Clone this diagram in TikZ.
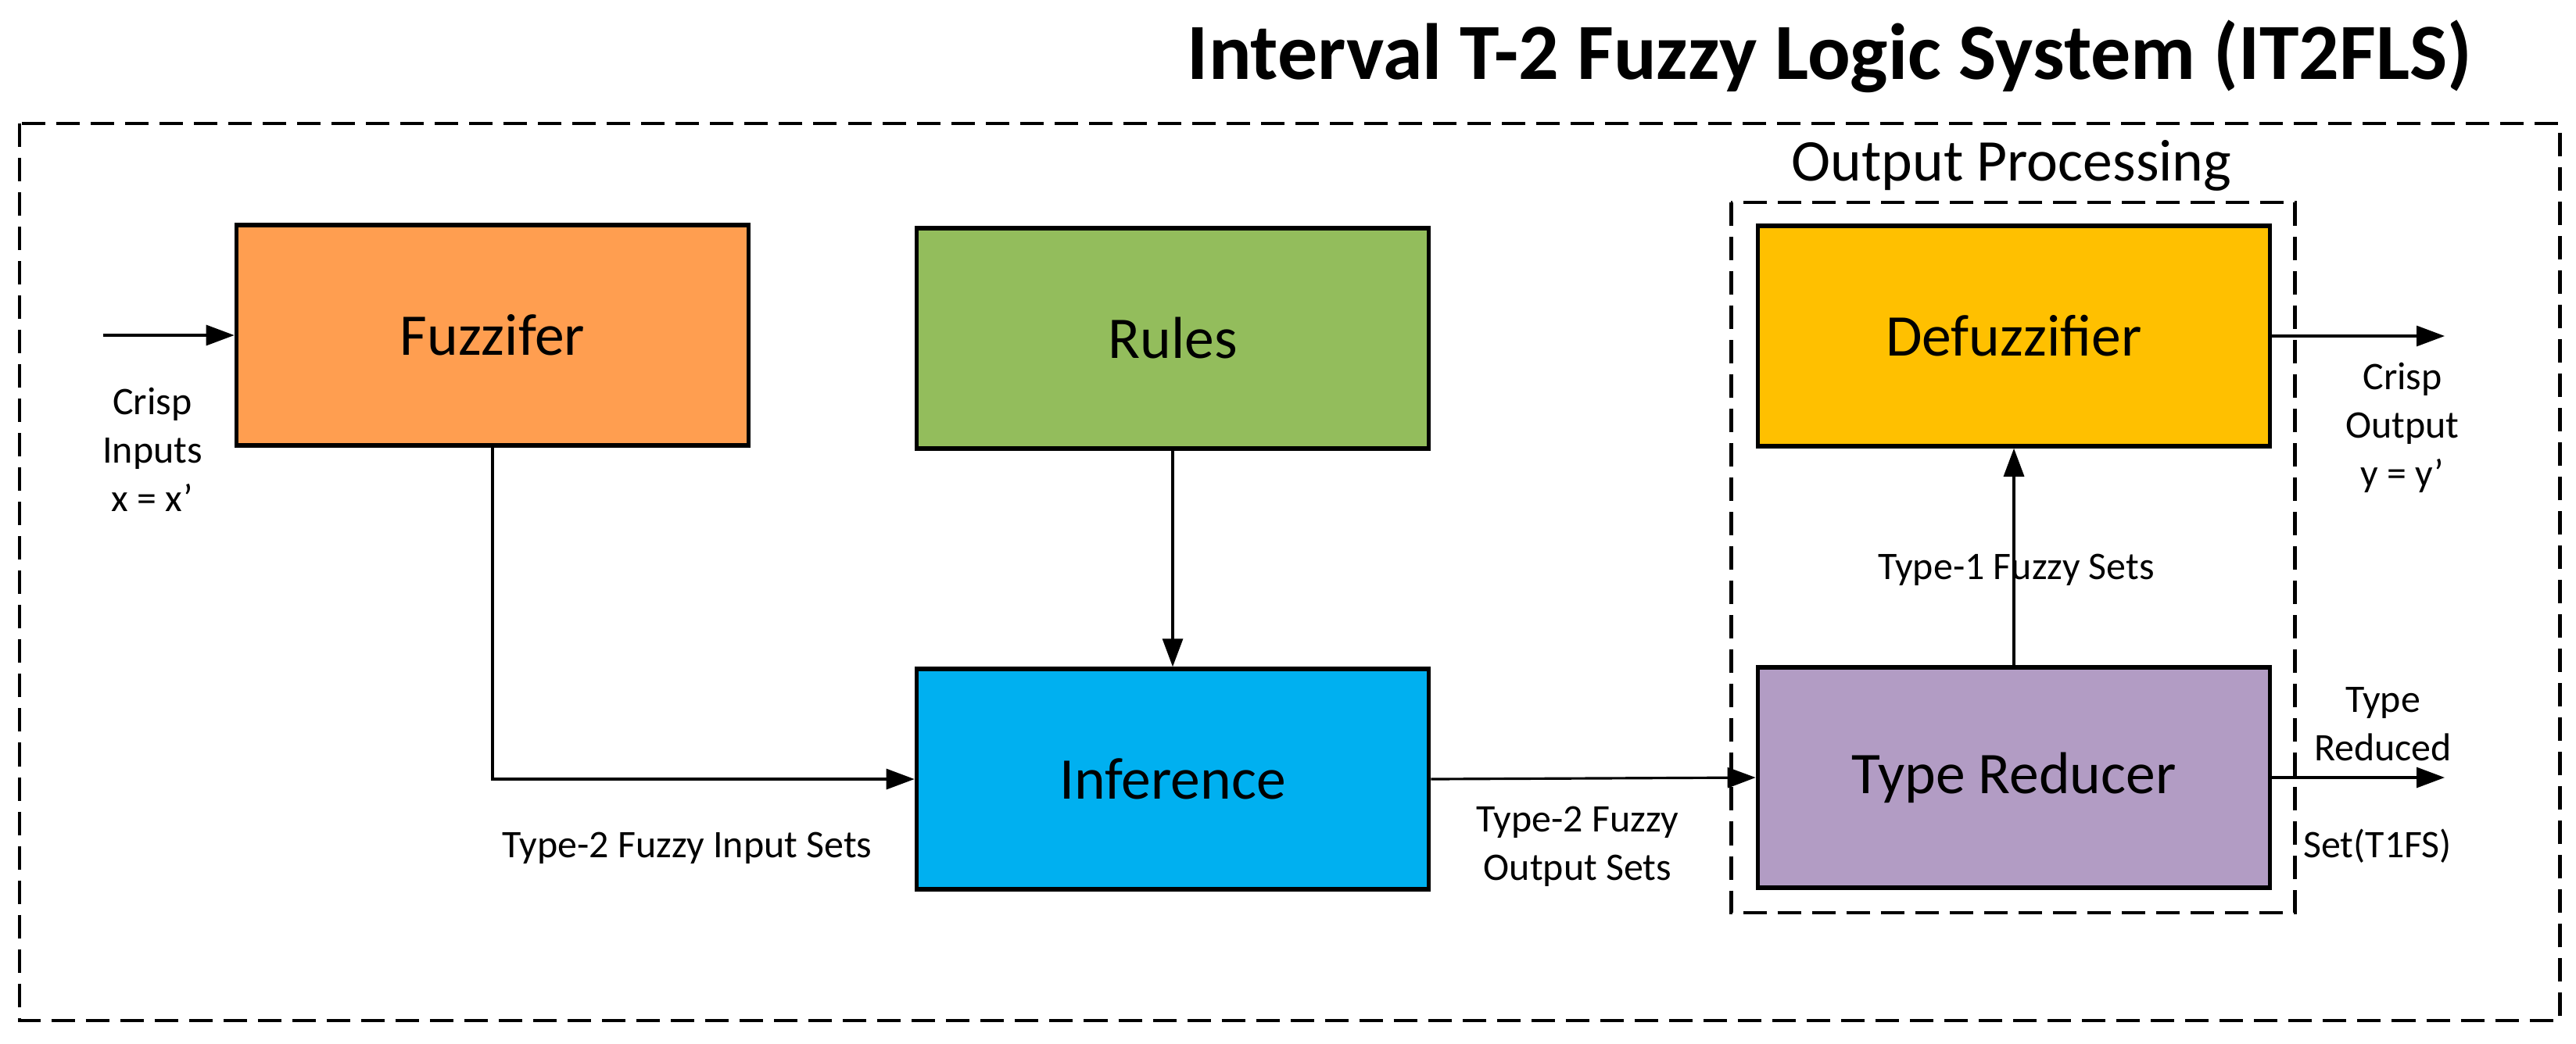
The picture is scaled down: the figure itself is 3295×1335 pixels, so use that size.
\documentclass[tikz,border=0pt]{standalone}
\usepackage{fontspec}
\setmainfont{Carlito}
\usetikzlibrary{arrows.meta}
\definecolor{cfuz}{HTML}{FF9E50}
\definecolor{crul}{HTML}{93BD5C}
\definecolor{cinf}{HTML}{00B0F0}
\definecolor{cdef}{HTML}{FFC000}
\definecolor{ctr}{HTML}{B29CC4}
\tikzset{
  block/.style={draw=black, line width=1.5pt, minimum width=6.55cm, minimum height=2.82cm, inner sep=0pt, font=\fontsize{21.5}{25}\selectfont},
  lbl/.style={align=center, inner sep=0pt, font=\fontsize{14.2}{17.6}\selectfont},
  conn/.style={line width=0.9pt, -{Triangle[length=0.36cm,width=0.26cm]}},
  frame/.style={line width=1.4pt, dash pattern=on 0.3cm off 0.14cm},
}
\begin{document}
\begin{tikzpicture}[x=0.01cm, y=-0.01cm]
\useasboundingbox (0,0) rectangle (3295,1335);
% title
\node[font=\fontsize{29}{34}\bfseries\selectfont, anchor=east, inner sep=0pt] (title) at (3163,72) {Interval T-2 Fuzzy Logic System (IT2FLS)};
% frames
\draw[frame] (25,158) rectangle (3274,1306);
\draw[frame] (2214,259) rectangle (2935,1168);
\node[font=\fontsize{21.5}{25}\selectfont, inner sep=0pt] (op) at (2573,212) {Output Processing};
% blocks
\node[block, fill=cfuz] (fuz) at (630,429) {Fuzzifer};
\node[block, fill=crul] (rul) at (1500,433) {Rules};
\node[block, fill=cinf] (inf) at (1500,997) {Inference};
\node[block, fill=cdef] (def) at (2576,430) {Defuzzifier};
\node[block, fill=ctr] (tr) at (2576,995) {Type Reducer};
% free ends
\coordinate (in) at (132,429);
\coordinate (out1) at (3127,430);
\coordinate (out2) at (3127,995);
% connectors
\draw[conn] (in) -- (fuz.west);
\draw[conn] (fuz.south) |- (inf.west);
\draw[conn] (rul.south) -- (inf.north);
\draw[conn] (inf.east) -- (tr.west);
\draw[conn] (tr.north) -- (def.south);
\draw[conn] (def.east) -- (out1);
\draw[conn] (tr.east) -- (out2);
% labels
\node[lbl] (l1) at (195,575) {Crisp\\Inputs\\x = x’};
\node[lbl] (l2) at (879,1085) {Type-2 Fuzzy Input Sets};
\node[lbl] (l3) at (2018,1083) {Type-2 Fuzzy\\Output Sets};
\node[lbl] (l4) at (2579,729) {Type-1 Fuzzy Sets};
\node[lbl] (l5) at (3073,547) {Crisp\\Output\\y = y’};
\node[lbl] (l6) at (3048,927) {Type\\Reduced};
\node[lbl] (l7) at (3041,1083) {Set(T1FS)};
\end{tikzpicture}
\end{document}
